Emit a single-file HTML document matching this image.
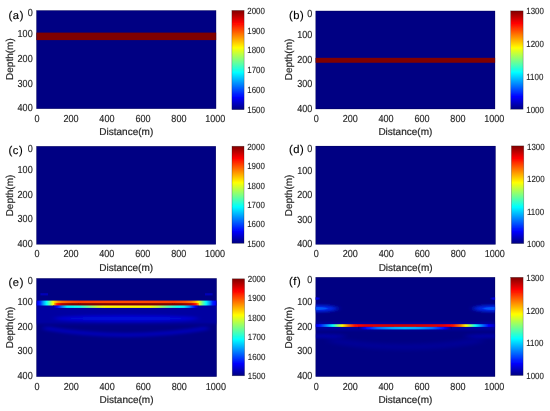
<!DOCTYPE html>
<html><head><meta charset="utf-8"><title>Figure</title>
<style>
html,body{margin:0;padding:0;background:#fff;}
body{width:550px;height:411px;overflow:hidden;}
svg{display:block;font-family:"Liberation Sans",Arial,sans-serif;text-rendering:geometricPrecision;}
.t{font-size:10.2px;fill:#262626;stroke:#262626;stroke-width:0.16px;}
.c{font-size:9px;fill:#262626;stroke:#262626;stroke-width:0.12px;}
.l{font-size:10px;fill:#262626;stroke:#262626;stroke-width:0.2px;}
.p{font-size:11.2px;fill:#000;stroke:#000;stroke-width:0.15px;letter-spacing:0.62px;}
</style></head><body>
<svg width="550" height="411" viewBox="0 0 550 411">
<defs>
<linearGradient id="jet" x1="0" y1="1" x2="0" y2="0">
<stop offset="0.0000" stop-color="#000080"/><stop offset="0.0625" stop-color="#0000bf"/><stop offset="0.1250" stop-color="#0000ff"/><stop offset="0.1875" stop-color="#0040ff"/><stop offset="0.2500" stop-color="#0080ff"/><stop offset="0.3125" stop-color="#00bfff"/><stop offset="0.3750" stop-color="#00ffff"/><stop offset="0.4375" stop-color="#40ffbf"/><stop offset="0.5000" stop-color="#80ff80"/><stop offset="0.5625" stop-color="#bfff40"/><stop offset="0.6250" stop-color="#ffff00"/><stop offset="0.6875" stop-color="#ffbf00"/><stop offset="0.7500" stop-color="#ff8000"/><stop offset="0.8125" stop-color="#ff4000"/><stop offset="0.8750" stop-color="#ff0000"/><stop offset="0.9375" stop-color="#bf0000"/><stop offset="1.0000" stop-color="#800000"/></linearGradient>
<linearGradient id="etop" gradientUnits="userSpaceOnUse" x1="36.40" y1="0" x2="216.70" y2="0"><stop offset="0.0000" stop-color="#0000e6"/><stop offset="0.0100" stop-color="#0005ff"/><stop offset="0.0200" stop-color="#0024ff"/><stop offset="0.0255" stop-color="#0049ff"/><stop offset="0.0311" stop-color="#006eff"/><stop offset="0.0366" stop-color="#0094ff"/><stop offset="0.0431" stop-color="#00b6ff"/><stop offset="0.0495" stop-color="#00d8ff"/><stop offset="0.0560" stop-color="#00faff"/><stop offset="0.0616" stop-color="#1dffe2"/><stop offset="0.0671" stop-color="#3fffc0"/><stop offset="0.0727" stop-color="#61ff9e"/><stop offset="0.0773" stop-color="#86ff79"/><stop offset="0.0819" stop-color="#acff53"/><stop offset="0.0865" stop-color="#d1ff2e"/><stop offset="0.0911" stop-color="#ecff13"/><stop offset="0.0958" stop-color="#fff700"/><stop offset="0.1004" stop-color="#ffdb00"/><stop offset="0.1101" stop-color="#ffbd00"/><stop offset="0.1198" stop-color="#ff9e00"/><stop offset="0.1309" stop-color="#ff8a00"/><stop offset="0.1420" stop-color="#ff7500"/><stop offset="0.1753" stop-color="#ff5700"/><stop offset="0.2307" stop-color="#ff4200"/><stop offset="0.4969" stop-color="#ff4c00"/><stop offset="0.7687" stop-color="#ff4200"/><stop offset="0.8242" stop-color="#ff5700"/><stop offset="0.8552" stop-color="#ff7500"/><stop offset="0.8647" stop-color="#ff8a00"/><stop offset="0.8741" stop-color="#ff9e00"/><stop offset="0.8830" stop-color="#ffbd00"/><stop offset="0.8918" stop-color="#ffdb00"/><stop offset="0.8963" stop-color="#fff700"/><stop offset="0.9007" stop-color="#ecff13"/><stop offset="0.9052" stop-color="#d1ff2e"/><stop offset="0.9107" stop-color="#acff53"/><stop offset="0.9163" stop-color="#86ff79"/><stop offset="0.9218" stop-color="#61ff9e"/><stop offset="0.9283" stop-color="#3fffc0"/><stop offset="0.9347" stop-color="#1dffe2"/><stop offset="0.9412" stop-color="#00faff"/><stop offset="0.9477" stop-color="#00d8ff"/><stop offset="0.9542" stop-color="#00b6ff"/><stop offset="0.9606" stop-color="#0094ff"/><stop offset="0.9662" stop-color="#006eff"/><stop offset="0.9717" stop-color="#0049ff"/><stop offset="0.9773" stop-color="#0024ff"/><stop offset="0.9886" stop-color="#0005ff"/><stop offset="1.0000" stop-color="#0000e6"/></linearGradient>
<linearGradient id="ecore" gradientUnits="userSpaceOnUse" x1="54.00" y1="0" x2="199.00" y2="0"><stop offset="0.0000" stop-color="#ffb300"/><stop offset="0.0041" stop-color="#ff9200"/><stop offset="0.0083" stop-color="#ff7100"/><stop offset="0.0124" stop-color="#ff5100"/><stop offset="0.0166" stop-color="#ff3000"/><stop offset="0.0207" stop-color="#ff0f00"/><stop offset="0.0322" stop-color="#f00000"/><stop offset="0.0437" stop-color="#d10000"/><stop offset="0.0552" stop-color="#b30000"/><stop offset="0.0897" stop-color="#990000"/><stop offset="0.1241" stop-color="#800000"/><stop offset="0.8759" stop-color="#800000"/><stop offset="0.9103" stop-color="#990000"/><stop offset="0.9448" stop-color="#b30000"/><stop offset="0.9563" stop-color="#d10000"/><stop offset="0.9678" stop-color="#f00000"/><stop offset="0.9793" stop-color="#ff0f00"/><stop offset="0.9834" stop-color="#ff3000"/><stop offset="0.9876" stop-color="#ff5100"/><stop offset="0.9917" stop-color="#ff7100"/><stop offset="0.9959" stop-color="#ff9200"/><stop offset="1.0000" stop-color="#ffb300"/></linearGradient>
<linearGradient id="elow" gradientUnits="userSpaceOnUse" x1="53.00" y1="0" x2="199.00" y2="0"><stop offset="0.0000" stop-color="#000094"/><stop offset="0.0091" stop-color="#0000b6"/><stop offset="0.0183" stop-color="#0000d8"/><stop offset="0.0274" stop-color="#0000fa"/><stop offset="0.0360" stop-color="#001cff"/><stop offset="0.0445" stop-color="#003dff"/><stop offset="0.0531" stop-color="#005eff"/><stop offset="0.0616" stop-color="#0080ff"/><stop offset="0.0731" stop-color="#00a5ff"/><stop offset="0.0845" stop-color="#00caff"/><stop offset="0.0959" stop-color="#00f0ff"/><stop offset="0.1404" stop-color="#05fffa"/><stop offset="0.1849" stop-color="#1affe5"/><stop offset="0.2078" stop-color="#3cffc3"/><stop offset="0.2306" stop-color="#5effa2"/><stop offset="0.2534" stop-color="#80ff80"/><stop offset="0.2808" stop-color="#a8ff57"/><stop offset="0.3082" stop-color="#d1ff2e"/><stop offset="0.3322" stop-color="#e5ff1a"/><stop offset="0.3562" stop-color="#faff05"/><stop offset="0.4452" stop-color="#fffa00"/><stop offset="0.5959" stop-color="#fffa00"/><stop offset="0.6644" stop-color="#faff05"/><stop offset="0.6918" stop-color="#dbff24"/><stop offset="0.7192" stop-color="#bdff42"/><stop offset="0.7397" stop-color="#9eff61"/><stop offset="0.7603" stop-color="#80ff80"/><stop offset="0.7808" stop-color="#61ff9e"/><stop offset="0.8116" stop-color="#3dffc2"/><stop offset="0.8425" stop-color="#1affe5"/><stop offset="0.8699" stop-color="#05fffa"/><stop offset="0.8973" stop-color="#00f0ff"/><stop offset="0.9110" stop-color="#00caff"/><stop offset="0.9247" stop-color="#00a5ff"/><stop offset="0.9384" stop-color="#0080ff"/><stop offset="0.9469" stop-color="#005eff"/><stop offset="0.9555" stop-color="#003dff"/><stop offset="0.9640" stop-color="#001cff"/><stop offset="0.9726" stop-color="#0000fa"/><stop offset="0.9817" stop-color="#0000d8"/><stop offset="0.9909" stop-color="#0000b6"/><stop offset="1.0000" stop-color="#000094"/></linearGradient>
<linearGradient id="fmain" gradientUnits="userSpaceOnUse" x1="315.60" y1="0" x2="495.20" y2="0"><stop offset="0.0000" stop-color="#0000e6"/><stop offset="0.0122" stop-color="#0000ff"/><stop offset="0.0245" stop-color="#001aff"/><stop offset="0.0356" stop-color="#003cff"/><stop offset="0.0468" stop-color="#005eff"/><stop offset="0.0579" stop-color="#0080ff"/><stop offset="0.0670" stop-color="#009eff"/><stop offset="0.0760" stop-color="#00bdff"/><stop offset="0.0851" stop-color="#00dbff"/><stop offset="0.0941" stop-color="#00faff"/><stop offset="0.1018" stop-color="#21ffde"/><stop offset="0.1094" stop-color="#47ffb8"/><stop offset="0.1171" stop-color="#6eff91"/><stop offset="0.1247" stop-color="#94ff6b"/><stop offset="0.1331" stop-color="#b9ff46"/><stop offset="0.1414" stop-color="#dfff20"/><stop offset="0.1498" stop-color="#fffa00"/><stop offset="0.1574" stop-color="#ffdb00"/><stop offset="0.1651" stop-color="#ffbd00"/><stop offset="0.1727" stop-color="#ff9e00"/><stop offset="0.1804" stop-color="#ff8000"/><stop offset="0.1934" stop-color="#ff5a00"/><stop offset="0.2064" stop-color="#ff3500"/><stop offset="0.2194" stop-color="#ff0f00"/><stop offset="0.2472" stop-color="#fa0000"/><stop offset="0.2751" stop-color="#e50000"/><stop offset="0.4978" stop-color="#d10000"/><stop offset="0.7094" stop-color="#e50000"/><stop offset="0.7372" stop-color="#fa0000"/><stop offset="0.7650" stop-color="#ff0f00"/><stop offset="0.7786" stop-color="#ff3500"/><stop offset="0.7921" stop-color="#ff5a00"/><stop offset="0.8057" stop-color="#ff8000"/><stop offset="0.8132" stop-color="#ff9e00"/><stop offset="0.8207" stop-color="#ffbd00"/><stop offset="0.8282" stop-color="#ffdb00"/><stop offset="0.8357" stop-color="#fffa00"/><stop offset="0.8437" stop-color="#dfff20"/><stop offset="0.8517" stop-color="#b9ff46"/><stop offset="0.8597" stop-color="#94ff6b"/><stop offset="0.8673" stop-color="#6eff91"/><stop offset="0.8750" stop-color="#47ffb8"/><stop offset="0.8827" stop-color="#21ffde"/><stop offset="0.8903" stop-color="#00faff"/><stop offset="0.8994" stop-color="#00dbff"/><stop offset="0.9084" stop-color="#00bdff"/><stop offset="0.9175" stop-color="#009eff"/><stop offset="0.9265" stop-color="#0080ff"/><stop offset="0.9356" stop-color="#0061ff"/><stop offset="0.9446" stop-color="#0042ff"/><stop offset="0.9536" stop-color="#0024ff"/><stop offset="0.9627" stop-color="#0005ff"/><stop offset="0.9813" stop-color="#0000e0"/><stop offset="1.0000" stop-color="#0000bd"/></linearGradient>
<linearGradient id="flow" gradientUnits="userSpaceOnUse" x1="358.00" y1="0" x2="452.00" y2="0"><stop offset="0.0000" stop-color="#000080"/><stop offset="0.0213" stop-color="#0000a1"/><stop offset="0.0426" stop-color="#0000c2"/><stop offset="0.0638" stop-color="#0000e3"/><stop offset="0.0851" stop-color="#0005ff"/><stop offset="0.1277" stop-color="#0027ff"/><stop offset="0.1702" stop-color="#0049ff"/><stop offset="0.2128" stop-color="#006bff"/><stop offset="0.2872" stop-color="#008aff"/><stop offset="0.3617" stop-color="#00a8ff"/><stop offset="0.5000" stop-color="#00bdff"/><stop offset="0.6383" stop-color="#00a8ff"/><stop offset="0.7128" stop-color="#008aff"/><stop offset="0.7872" stop-color="#006bff"/><stop offset="0.8298" stop-color="#0049ff"/><stop offset="0.8723" stop-color="#0027ff"/><stop offset="0.9149" stop-color="#0005ff"/><stop offset="0.9362" stop-color="#0000e3"/><stop offset="0.9574" stop-color="#0000c2"/><stop offset="0.9787" stop-color="#0000a1"/><stop offset="1.0000" stop-color="#000080"/></linearGradient>
<filter id="bv1" x="-5%" y="-300%" width="110%" height="700%"><feGaussianBlur stdDeviation="0.6 0.75"/></filter>
<filter id="bv2" x="-5%" y="-300%" width="110%" height="700%"><feGaussianBlur stdDeviation="1.2 0.7"/></filter>
<filter id="b3" x="-30%" y="-100%" width="160%" height="300%"><feGaussianBlur stdDeviation="3 1.6"/></filter>
<filter id="b4" x="-30%" y="-100%" width="160%" height="300%"><feGaussianBlur stdDeviation="5 2.2"/></filter>
<filter id="soft" x="-2%" y="-2%" width="104%" height="104%"><feGaussianBlur stdDeviation="0.35"/></filter>
<clipPath id="cp00"><rect x="36.40" y="10.40" width="179.75" height="98.40"/></clipPath>
<clipPath id="cp01"><rect x="315.60" y="10.85" width="179.50" height="98.25"/></clipPath>
<clipPath id="cp10"><rect x="36.40" y="146.20" width="179.50" height="98.25"/></clipPath>
<clipPath id="cp11"><rect x="315.60" y="145.95" width="180.00" height="98.55"/></clipPath>
<clipPath id="cp20"><rect x="36.40" y="278.30" width="180.30" height="98.45"/></clipPath>
<clipPath id="cp21"><rect x="315.60" y="277.20" width="179.50" height="99.50"/></clipPath>
</defs>
<rect width="550" height="411" fill="#fff"/>
<g filter="url(#soft)"><rect x="36.40" y="10.40" width="179.75" height="98.40" fill="#000083"/><rect x="36.40" y="32.60" width="179.75" height="7.50" fill="#800000"/><rect x="36.65" y="10.65" width="179.25" height="97.90" fill="none" stroke="#000" stroke-opacity="0.3" stroke-width="0.5"/></g>
<rect x="231.90" y="10.40" width="12.20" height="99.30" fill="url(#jet)" stroke="#202020" stroke-opacity="0.55" stroke-width="0.5" filter="url(#soft)"/>
<text class="c" transform="translate(247.30 13.80) scale(0.88 1)">2000</text><text class="c" transform="translate(247.30 33.64) scale(0.88 1)">1900</text><text class="c" transform="translate(247.30 53.48) scale(0.88 1)">1800</text><text class="c" transform="translate(247.30 73.32) scale(0.88 1)">1700</text><text class="c" transform="translate(247.30 93.16) scale(0.88 1)">1600</text><text class="c" transform="translate(247.30 113.00) scale(0.88 1)">1500</text>
<text class="t" text-anchor="end" transform="translate(32.70 16.00) scale(0.89 1)">0</text><text class="t" text-anchor="end" transform="translate(32.70 37.30) scale(0.89 1)">100</text><text class="t" text-anchor="end" transform="translate(32.70 61.90) scale(0.89 1)">200</text><text class="t" text-anchor="end" transform="translate(32.70 86.50) scale(0.89 1)">300</text><text class="t" text-anchor="end" transform="translate(32.70 111.20) scale(0.89 1)">400</text>
<text class="t" text-anchor="middle" transform="translate(37.00 121.70) scale(0.89 1)">0</text><text class="t" text-anchor="middle" transform="translate(71.10 121.70) scale(0.89 1)">200</text><text class="t" text-anchor="middle" transform="translate(106.90 121.70) scale(0.89 1)">400</text><text class="t" text-anchor="middle" transform="translate(143.00 121.70) scale(0.89 1)">600</text><text class="t" text-anchor="middle" transform="translate(178.90 121.70) scale(0.89 1)">800</text><text class="t" text-anchor="middle" transform="translate(215.30 121.70) scale(0.89 1)">1000</text>
<text class="l" text-anchor="middle" x="126.28" y="135.10">Distance(m)</text><text class="l" text-anchor="middle" transform="translate(12.60 59.10) rotate(-90)">Depth(m)</text><text class="p" x="8.50" y="18.50">(a)</text>
<g filter="url(#soft)"><rect x="315.60" y="10.85" width="179.50" height="98.25" fill="#000083"/><rect x="315.60" y="57.85" width="179.50" height="4.90" fill="#800000"/><rect x="315.85" y="11.10" width="179.00" height="97.75" fill="none" stroke="#000" stroke-opacity="0.3" stroke-width="0.5"/></g>
<rect x="510.70" y="10.90" width="12.40" height="98.30" fill="url(#jet)" stroke="#202020" stroke-opacity="0.55" stroke-width="0.5" filter="url(#soft)"/>
<text class="c" transform="translate(526.30 14.40) scale(0.88 1)">1300</text><text class="c" transform="translate(526.30 47.17) scale(0.88 1)">1200</text><text class="c" transform="translate(526.30 79.93) scale(0.88 1)">1100</text><text class="c" transform="translate(526.30 112.70) scale(0.88 1)">1000</text>
<text class="t" text-anchor="end" transform="translate(312.40 16.75) scale(0.89 1)">0</text><text class="t" text-anchor="end" transform="translate(312.40 38.01) scale(0.89 1)">100</text><text class="t" text-anchor="end" transform="translate(312.40 62.58) scale(0.89 1)">200</text><text class="t" text-anchor="end" transform="translate(312.40 87.14) scale(0.89 1)">300</text><text class="t" text-anchor="end" transform="translate(312.40 111.60) scale(0.89 1)">400</text>
<text class="t" text-anchor="middle" transform="translate(316.20 122.00) scale(0.89 1)">0</text><text class="t" text-anchor="middle" transform="translate(350.25 122.00) scale(0.89 1)">200</text><text class="t" text-anchor="middle" transform="translate(386.00 122.00) scale(0.89 1)">400</text><text class="t" text-anchor="middle" transform="translate(422.05 122.00) scale(0.89 1)">600</text><text class="t" text-anchor="middle" transform="translate(457.90 122.00) scale(0.89 1)">800</text><text class="t" text-anchor="middle" transform="translate(494.25 122.00) scale(0.89 1)">1000</text>
<text class="l" text-anchor="middle" x="405.35" y="135.40">Distance(m)</text><text class="l" text-anchor="middle" transform="translate(291.80 59.47) rotate(-90)">Depth(m)</text><text class="p" x="288.90" y="19.00">(b)</text>
<g filter="url(#soft)"><rect x="36.40" y="146.20" width="179.50" height="98.25" fill="#000083"/><rect x="36.65" y="146.45" width="179.00" height="97.75" fill="none" stroke="#000" stroke-opacity="0.3" stroke-width="0.5"/></g>
<rect x="232.00" y="146.20" width="12.00" height="97.10" fill="url(#jet)" stroke="#202020" stroke-opacity="0.55" stroke-width="0.5" filter="url(#soft)"/>
<text class="c" transform="translate(247.20 149.70) scale(0.88 1)">2000</text><text class="c" transform="translate(247.20 169.12) scale(0.88 1)">1900</text><text class="c" transform="translate(247.20 188.54) scale(0.88 1)">1800</text><text class="c" transform="translate(247.20 207.96) scale(0.88 1)">1700</text><text class="c" transform="translate(247.20 227.38) scale(0.88 1)">1600</text><text class="c" transform="translate(247.20 246.80) scale(0.88 1)">1500</text>
<text class="t" text-anchor="end" transform="translate(32.70 151.80) scale(0.89 1)">0</text><text class="t" text-anchor="end" transform="translate(32.70 173.06) scale(0.89 1)">100</text><text class="t" text-anchor="end" transform="translate(32.70 197.62) scale(0.89 1)">200</text><text class="t" text-anchor="end" transform="translate(32.70 222.19) scale(0.89 1)">300</text><text class="t" text-anchor="end" transform="translate(32.70 246.85) scale(0.89 1)">400</text>
<text class="t" text-anchor="middle" transform="translate(37.00 257.35) scale(0.89 1)">0</text><text class="t" text-anchor="middle" transform="translate(71.05 257.35) scale(0.89 1)">200</text><text class="t" text-anchor="middle" transform="translate(106.80 257.35) scale(0.89 1)">400</text><text class="t" text-anchor="middle" transform="translate(142.85 257.35) scale(0.89 1)">600</text><text class="t" text-anchor="middle" transform="translate(178.70 257.35) scale(0.89 1)">800</text><text class="t" text-anchor="middle" transform="translate(215.05 257.35) scale(0.89 1)">1000</text>
<text class="l" text-anchor="middle" x="126.15" y="270.75">Distance(m)</text><text class="l" text-anchor="middle" transform="translate(12.60 195.52) rotate(-90)">Depth(m)</text><text class="p" x="8.50" y="153.80">(c)</text>
<g filter="url(#soft)"><rect x="315.60" y="145.95" width="180.00" height="98.55" fill="#000083"/><rect x="315.85" y="146.20" width="179.50" height="98.05" fill="none" stroke="#000" stroke-opacity="0.3" stroke-width="0.5"/></g>
<rect x="511.40" y="145.90" width="12.40" height="97.70" fill="url(#jet)" stroke="#202020" stroke-opacity="0.55" stroke-width="0.5" filter="url(#soft)"/>
<text class="c" transform="translate(527.00 149.70) scale(0.88 1)">1300</text><text class="c" transform="translate(527.00 182.13) scale(0.88 1)">1200</text><text class="c" transform="translate(527.00 214.57) scale(0.88 1)">1100</text><text class="c" transform="translate(527.00 247.00) scale(0.88 1)">1000</text>
<text class="t" text-anchor="end" transform="translate(312.40 151.65) scale(0.89 1)">0</text><text class="t" text-anchor="end" transform="translate(312.40 173.59) scale(0.89 1)">100</text><text class="t" text-anchor="end" transform="translate(312.40 198.22) scale(0.89 1)">200</text><text class="t" text-anchor="end" transform="translate(312.40 222.86) scale(0.89 1)">300</text><text class="t" text-anchor="end" transform="translate(312.40 247.40) scale(0.89 1)">400</text>
<text class="t" text-anchor="middle" transform="translate(316.20 257.40) scale(0.89 1)">0</text><text class="t" text-anchor="middle" transform="translate(350.35 257.40) scale(0.89 1)">200</text><text class="t" text-anchor="middle" transform="translate(386.20 257.40) scale(0.89 1)">400</text><text class="t" text-anchor="middle" transform="translate(422.35 257.40) scale(0.89 1)">600</text><text class="t" text-anchor="middle" transform="translate(458.30 257.40) scale(0.89 1)">800</text><text class="t" text-anchor="middle" transform="translate(494.75 257.40) scale(0.89 1)">1000</text>
<text class="l" text-anchor="middle" x="405.60" y="270.80">Distance(m)</text><text class="l" text-anchor="middle" transform="translate(291.80 195.42) rotate(-90)">Depth(m)</text><text class="p" x="288.90" y="153.40">(d)</text>
<g filter="url(#soft)"><rect x="36.40" y="278.30" width="180.30" height="98.45" fill="#000083"/><g clip-path="url(#cp20)"><rect x="30" y="304" width="192" height="20" fill="#0000c0" opacity="0.5" filter="url(#b3)"/><ellipse cx="126.3" cy="318.5" rx="72" ry="3.6" fill="#0008ff" opacity="0.55" filter="url(#b3)"/><path d="M44 328 Q126.3 342 208 328" stroke="#0000f0" stroke-width="4" fill="none" opacity="0.5" filter="url(#b3)"/><rect x="40.4" y="293.2" width="7.6" height="2.2" fill="#0000d0" opacity="0.7" filter="url(#bv1)"/><rect x="205.0" y="293.2" width="7.6" height="2.2" fill="#0000d0" opacity="0.7" filter="url(#bv1)"/><g filter="url(#bv1)"><rect x="36.40" y="300.6" width="180.30" height="4.9" fill="url(#etop)"/><rect x="54" y="303.1" width="145" height="2.4" fill="url(#ecore)"/><rect x="53" y="305.5" width="146" height="2.4" fill="url(#elow)"/></g></g><rect x="36.65" y="278.55" width="179.80" height="97.95" fill="none" stroke="#000" stroke-opacity="0.3" stroke-width="0.5"/></g>
<rect x="232.20" y="278.80" width="12.40" height="97.00" fill="url(#jet)" stroke="#202020" stroke-opacity="0.55" stroke-width="0.5" filter="url(#soft)"/>
<text class="c" transform="translate(247.80 281.80) scale(0.88 1)">2000</text><text class="c" transform="translate(247.80 301.24) scale(0.88 1)">1900</text><text class="c" transform="translate(247.80 320.68) scale(0.88 1)">1800</text><text class="c" transform="translate(247.80 340.12) scale(0.88 1)">1700</text><text class="c" transform="translate(247.80 359.56) scale(0.88 1)">1600</text><text class="c" transform="translate(247.80 379.00) scale(0.88 1)">1500</text>
<text class="t" text-anchor="end" transform="translate(32.70 283.90) scale(0.89 1)">0</text><text class="t" text-anchor="end" transform="translate(32.70 305.21) scale(0.89 1)">100</text><text class="t" text-anchor="end" transform="translate(32.70 329.82) scale(0.89 1)">200</text><text class="t" text-anchor="end" transform="translate(32.70 354.44) scale(0.89 1)">300</text><text class="t" text-anchor="end" transform="translate(32.70 379.15) scale(0.89 1)">400</text>
<text class="t" text-anchor="middle" transform="translate(37.00 389.65) scale(0.89 1)">0</text><text class="t" text-anchor="middle" transform="translate(71.21 389.65) scale(0.89 1)">200</text><text class="t" text-anchor="middle" transform="translate(107.12 389.65) scale(0.89 1)">400</text><text class="t" text-anchor="middle" transform="translate(143.33 389.65) scale(0.89 1)">600</text><text class="t" text-anchor="middle" transform="translate(179.34 389.65) scale(0.89 1)">800</text><text class="t" text-anchor="middle" transform="translate(215.85 389.65) scale(0.89 1)">1000</text>
<text class="l" text-anchor="middle" x="126.55" y="403.05">Distance(m)</text><text class="l" text-anchor="middle" transform="translate(12.60 327.42) rotate(-90)">Depth(m)</text><text class="p" x="8.50" y="285.60">(e)</text>
<g filter="url(#soft)"><rect x="315.60" y="277.20" width="179.50" height="99.50" fill="#000083"/><g clip-path="url(#cp21)"><rect x="310" y="322" width="192" height="8" fill="#0000c0" opacity="0.5" filter="url(#b3)"/><ellipse cx="315.6" cy="308.5" rx="22" ry="3.6" fill="#0030ff" opacity="0.85" filter="url(#b3)"/><ellipse cx="318.6" cy="308.5" rx="9" ry="1.5" fill="#0060ff" opacity="0.8" filter="url(#bv2)"/><ellipse cx="315.6" cy="298.6" rx="4" ry="1.3" fill="#0000f0" opacity="0.9" filter="url(#bv2)"/><ellipse cx="323.6" cy="336" rx="22" ry="2" fill="#0000e0" opacity="0.4" filter="url(#b3)"/><ellipse cx="495.2" cy="308.5" rx="22" ry="3.6" fill="#0030ff" opacity="0.85" filter="url(#b3)"/><ellipse cx="492.2" cy="308.5" rx="9" ry="1.5" fill="#0060ff" opacity="0.8" filter="url(#bv2)"/><ellipse cx="495.2" cy="298.6" rx="4" ry="1.3" fill="#0000f0" opacity="0.9" filter="url(#bv2)"/><ellipse cx="487.2" cy="336" rx="22" ry="2" fill="#0000e0" opacity="0.4" filter="url(#b3)"/><path d="M330 340 Q405.4 354 481 340" stroke="#0000d8" stroke-width="5" fill="none" opacity="0.3" filter="url(#b4)"/><g filter="url(#bv1)"><rect x="315.60" y="324.2" width="179.60" height="2.7" fill="url(#fmain)"/><rect x="358" y="326.9" width="94" height="2.5" fill="url(#flow)"/></g></g><rect x="315.85" y="277.45" width="179.00" height="99.00" fill="none" stroke="#000" stroke-opacity="0.3" stroke-width="0.5"/></g>
<rect x="510.70" y="277.30" width="12.40" height="98.20" fill="url(#jet)" stroke="#202020" stroke-opacity="0.55" stroke-width="0.5" filter="url(#soft)"/>
<text class="c" transform="translate(526.30 281.10) scale(0.88 1)">1300</text><text class="c" transform="translate(526.30 313.70) scale(0.88 1)">1200</text><text class="c" transform="translate(526.30 346.30) scale(0.88 1)">1100</text><text class="c" transform="translate(526.30 378.90) scale(0.88 1)">1000</text>
<text class="t" text-anchor="end" transform="translate(312.40 282.70) scale(0.89 1)">0</text><text class="t" text-anchor="end" transform="translate(312.40 304.67) scale(0.89 1)">100</text><text class="t" text-anchor="end" transform="translate(312.40 329.55) scale(0.89 1)">200</text><text class="t" text-anchor="end" transform="translate(312.40 354.42) scale(0.89 1)">300</text><text class="t" text-anchor="end" transform="translate(312.40 379.20) scale(0.89 1)">400</text>
<text class="t" text-anchor="middle" transform="translate(316.20 389.60) scale(0.89 1)">0</text><text class="t" text-anchor="middle" transform="translate(350.25 389.60) scale(0.89 1)">200</text><text class="t" text-anchor="middle" transform="translate(386.00 389.60) scale(0.89 1)">400</text><text class="t" text-anchor="middle" transform="translate(422.05 389.60) scale(0.89 1)">600</text><text class="t" text-anchor="middle" transform="translate(457.90 389.60) scale(0.89 1)">800</text><text class="t" text-anchor="middle" transform="translate(494.25 389.60) scale(0.89 1)">1000</text>
<text class="l" text-anchor="middle" x="405.35" y="403.00">Distance(m)</text><text class="l" text-anchor="middle" transform="translate(291.80 327.55) rotate(-90)">Depth(m)</text><text class="p" x="288.90" y="284.65">(f)</text>
</svg></body></html>
